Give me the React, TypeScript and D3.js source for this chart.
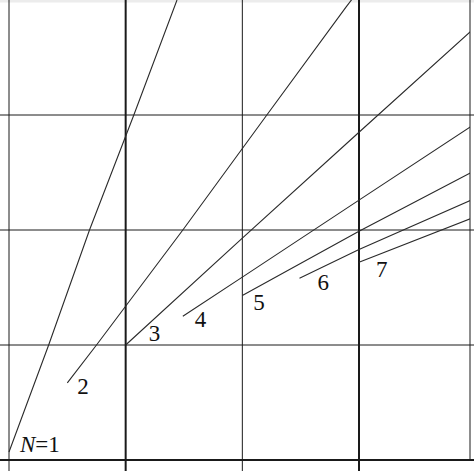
import * as d3 from "d3";

/* ------------------------------------------------------------------ */
/*  Data (grid units)                                                 */
/* ------------------------------------------------------------------ */

const xGrid = [0, 1, 2, 3];
const yGrid = [0, 1, 2, 3];
const thickX = [1, 3];
const thickY = [0];

const curveNames = ["1", "2", "3", "4", "5", "6", "7"];

const curve1: [number, number][] = [[0, 0.07], [0.34, 1], [0.69, 2], [1.07, 3], [1.44, 4]];
const curve2: [number, number][] = [[0.5, 0.67], [0.75, 1], [1.49, 2], [2.21, 3], [2.89, 3.94], [2.95, 4.02]];
const curve3: [number, number][] = [[1, 1], [2, 1.93], [3, 2.85], [3.96, 3.73]];
const curve4: [number, number][] = [[1.49, 1.25], [2, 1.59], [3, 2.26], [3.96, 2.9]];
const curve5: [number, number][] = [[2, 1.43], [3, 1.99], [3.96, 2.5]];
const curve6: [number, number][] = [[2.49, 1.58], [3, 1.83], [3.96, 2.26]];
const curve7: [number, number][] = [[3, 1.72], [3.96, 2.1]];

const curves = [curve1, curve2, curve3, curve4, curve5, curve6, curve7];

/** label offset from curve start, px */
const labelDx = [11, 10, 23, 12, 11, 18, 17];
const labelDy = [0, 11, -4, 11, 14, 12, 15];

/* ------------------------------------------------------------------ */

const W = 474;
const H = 471;

const x = d3.scaleLinear().domain([0, 3]).range([9, 359]);
const y = d3.scaleLinear().domain([0, 4]).range([460, 0]);

const line = d3
  .line<[number, number]>()
  .x((d) => x(d[0]))
  .y((d) => y(d[1]));

export default function App() {
  const right = 470;
  return (
    <div>
      <style>{`body{margin:0}`}</style>
      <svg width={W} height={H} viewBox={`0 0 ${W} ${H}`} style={{ display: "block", background: "#fff" }}>
        <defs>
          <clipPath id="plot">
            <rect x={0} y={0} width={right} height={H} />
          </clipPath>
        </defs>
        <rect x={0} y={0} width={W} height={2.5} fill="#ececec" />

        {/* grid */}
        {xGrid.map((g) => (
          <line
            key={`vx${g}`}
            x1={x(g)}
            x2={x(g)}
            y1={0}
            y2={H}
            stroke="#1a1a1a"
            strokeWidth={thickX.includes(g) ? 2 : 1}
          />
        ))}
        <line x1={right} x2={right} y1={0} y2={y(0)} stroke="#1a1a1a" strokeWidth={1} />
        {yGrid.map((g) => (
          <line
            key={`hy${g}`}
            x1={0}
            x2={W}
            y1={y(g)}
            y2={y(g)}
            stroke="#1a1a1a"
            strokeWidth={thickY.includes(g) ? 2 : 1}
          />
        ))}

        {/* curves */}
        <g clipPath="url(#plot)">
          {curves.map((c, i) => (
            <path key={i} d={line(c) ?? ""} fill="none" stroke="#2a2a2a" strokeWidth={1.1} />
          ))}
        </g>

        {/* labels */}
        <g style={{ fontFamily: '"Times New Roman", "Liberation Serif", Times, serif' }} fontSize={23} fill="#111">
          {curves.map((c, i) => (
            <text key={i} x={x(c[0][0]) + labelDx[i]} y={y(c[0][1]) + labelDy[i]}>
              {i === 0 ? (
                <>
                  <tspan fontStyle="italic">N</tspan>={curveNames[i]}
                </>
              ) : (
                curveNames[i]
              )}
            </text>
          ))}
        </g>
      </svg>
    </div>
  );
}
